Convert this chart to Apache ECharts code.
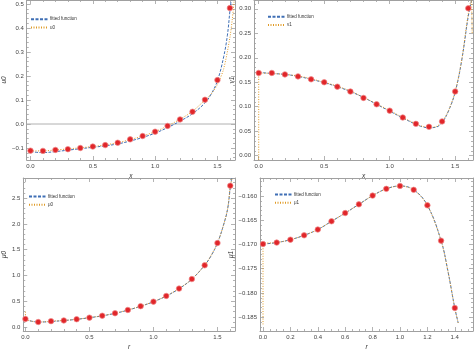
<!DOCTYPE html>
<html>
<head>
<meta charset="utf-8">
<script src="https://cdn.jsdelivr.net/npm/echarts@6/dist/echarts.min.js"></script>
<style>
  html, body { margin: 0; padding: 0; background: #fff; }
  #container { width: 474px; height: 352px; }
</style>
</head>
<body>
<div id="container"></div>
<script>
// sample points (red dots)
var xPts = [0, 0.1, 0.2, 0.3, 0.4, 0.5, 0.6, 0.7, 0.8, 0.9, 1.0, 1.1, 1.2, 1.3, 1.4, 1.5, 1.6];
var u0Pts = [-0.111, -0.112, -0.108, -0.105, -0.100, -0.094, -0.088, -0.078, -0.064, -0.050, -0.032, -0.008, 0.019, 0.051, 0.101, 0.183, 0.483];
var v1Pts = [0.169, 0.169, 0.166, 0.162, 0.156, 0.150, 0.141, 0.131, 0.118, 0.105, 0.092, 0.078, 0.065, 0.059, 0.070, 0.131, 0.301];
var mu0Pts = [0.16, 0.10, 0.117, 0.13, 0.154, 0.185, 0.222, 0.27, 0.333, 0.407, 0.494, 0.605, 0.747, 0.932, 1.198, 1.63, 2.74];
var rPts = [0, 0.1, 0.2, 0.3, 0.4, 0.5, 0.6, 0.7, 0.8, 0.9, 1.0, 1.1, 1.2, 1.3, 1.4];
var mu1Pts = [-0.1699, -0.1696, -0.1690, -0.1681, -0.1669, -0.1652, -0.1635, -0.1617, -0.1599, -0.1585, -0.1579, -0.1587, -0.1619, -0.1692, -0.1831];

// u0 panel curves
var u0FitX = [0, 0.05, 0.1, 0.2, 0.3, 0.4, 0.5, 0.6, 0.7, 0.8, 0.9, 1.0, 1.1, 1.2, 1.3, 1.4, 1.45, 1.5, 1.55, 1.58, 1.6, 1.61];
var u0FitY = [-0.114, -0.118, -0.119, -0.115, -0.109, -0.103, -0.097, -0.091, -0.083, -0.071, -0.056, -0.038, -0.015, 0.012, 0.043, 0.088, 0.125, 0.18, 0.28, 0.37, 0.47, 0.517];
var u0CurX = [0, 0.1, 0.2, 0.3, 0.4, 0.5, 0.6, 0.7, 0.8, 0.9, 1.0, 1.1, 1.2, 1.3, 1.4, 1.45, 1.5, 1.55, 1.6, 1.62, 1.635];
var u0CurY = [-0.112, -0.112, -0.108, -0.104, -0.099, -0.094, -0.087, -0.078, -0.065, -0.05, -0.032, -0.008, 0.02, 0.053, 0.1, 0.125, 0.165, 0.23, 0.36, 0.44, 0.517];

// v1 panel curves
var v1FitX = [0, 0.1, 0.2, 0.3, 0.4, 0.5, 0.6, 0.7, 0.8, 0.9, 1.0, 1.1, 1.2, 1.25, 1.3, 1.35, 1.4, 1.45, 1.5, 1.55, 1.6, 1.625];
var v1FitY = [0.170, 0.168, 0.166, 0.162, 0.156, 0.149, 0.141, 0.131, 0.119, 0.105, 0.091, 0.077, 0.064, 0.059, 0.057, 0.058, 0.068, 0.092, 0.130, 0.195, 0.285, 0.317];
var v1CurX = [0, 0, 0.1, 0.2, 0.3, 0.4, 0.5, 0.6, 0.7, 0.8, 0.9, 1.0, 1.1, 1.2, 1.25, 1.3, 1.35, 1.4, 1.45, 1.5, 1.55, 1.6, 1.625, 1.63, 1.63];
var v1CurY = [-0.009, 0.169, 0.168, 0.166, 0.163, 0.157, 0.150, 0.142, 0.132, 0.119, 0.106, 0.092, 0.078, 0.065, 0.060, 0.058, 0.059, 0.069, 0.093, 0.131, 0.196, 0.29, 0.317, 0.317, 0.25];

// mu0 panel curves
var mu0FitX = [0, 0.05, 0.1, 0.15, 0.2, 0.3, 0.4, 0.5, 0.6, 0.7, 0.8, 0.9, 1.0, 1.1, 1.2, 1.3, 1.4, 1.45, 1.5, 1.55, 1.58, 1.6, 1.612];
var mu0FitY = [0.15, 0.115, 0.10, 0.102, 0.11, 0.128, 0.152, 0.183, 0.22, 0.268, 0.33, 0.405, 0.492, 0.603, 0.745, 0.93, 1.2, 1.38, 1.63, 2.0, 2.3, 2.7, 2.89];
var mu0CurX = [0, 0, 0.05, 0.1, 0.15, 0.2, 0.3, 0.4, 0.5, 0.6, 0.7, 0.8, 0.9, 1.0, 1.1, 1.2, 1.3, 1.4, 1.45, 1.5, 1.55, 1.58, 1.6, 1.615];
var mu0CurY = [0.3, 0.16, 0.115, 0.10, 0.104, 0.117, 0.13, 0.154, 0.185, 0.222, 0.27, 0.333, 0.407, 0.494, 0.605, 0.747, 0.932, 1.198, 1.39, 1.63, 2.0, 2.3, 2.72, 2.89];

// mu1 panel curves
var mu1FitX = [0, 0.1, 0.2, 0.3, 0.4, 0.5, 0.6, 0.7, 0.8, 0.9, 1.0, 1.1, 1.2, 1.3, 1.35, 1.4, 1.425];
var mu1FitY = [-0.1699, -0.1696, -0.1690, -0.1681, -0.1669, -0.1652, -0.1635, -0.1617, -0.1599, -0.1585, -0.1579, -0.1587, -0.1619, -0.1692, -0.1755, -0.1831, -0.1862];
var mu1CurX = [0, 0, 0.1, 0.2, 0.3, 0.4, 0.5, 0.6, 0.7, 0.8, 0.9, 1.0, 1.1, 1.2, 1.3, 1.35, 1.4, 1.425];
var mu1CurY = [-0.1865, -0.1699, -0.1696, -0.1690, -0.1681, -0.1669, -0.1652, -0.1635, -0.1617, -0.1599, -0.1585, -0.1579, -0.1587, -0.1619, -0.1692, -0.1755, -0.1831, -0.1862];

// tick values
var xTicks = [0, 0.5, 1.0, 1.5];
var xMinor = [0.1, 0.2, 0.3, 0.4, 0.6, 0.7, 0.8, 0.9, 1.1, 1.2, 1.3, 1.4, 1.6];
var rTicks = [0, 0.2, 0.4, 0.6, 0.8, 1.0, 1.2, 1.4];
var rMinor = [0.05, 0.1, 0.15, 0.25, 0.3, 0.35, 0.45, 0.5, 0.55, 0.65, 0.7, 0.75, 0.85, 0.9, 0.95, 1.05, 1.1, 1.15, 1.25, 1.3, 1.35, 1.45, 1.5];
var u0Ticks = [-0.1, 0, 0.1, 0.2, 0.3, 0.4, 0.5];
var u0Minor = [-0.14, -0.12, -0.08, -0.06, -0.04, -0.02, 0.02, 0.04, 0.06, 0.08, 0.12, 0.14, 0.16, 0.18, 0.22, 0.24, 0.26, 0.28, 0.32, 0.34, 0.36, 0.38, 0.42, 0.44, 0.46, 0.48];
var v1Ticks = [0, 0.05, 0.1, 0.15, 0.2, 0.25, 0.3];
var v1Minor = [0.01, 0.02, 0.03, 0.04, 0.06, 0.07, 0.08, 0.09, 0.11, 0.12, 0.13, 0.14, 0.16, 0.17, 0.18, 0.19, 0.21, 0.22, 0.23, 0.24, 0.26, 0.27, 0.28, 0.29, 0.31];
var mu0Ticks = [0, 0.5, 1.0, 1.5, 2.0, 2.5];
var mu0Minor = [0.1, 0.2, 0.3, 0.4, 0.6, 0.7, 0.8, 0.9, 1.1, 1.2, 1.3, 1.4, 1.6, 1.7, 1.8, 1.9, 2.1, 2.2, 2.3, 2.4, 2.6, 2.7, 2.8];
var mu1Ticks = [-0.185, -0.18, -0.175, -0.17, -0.165, -0.16];
var mu1Minor = [-0.187, -0.186, -0.184, -0.183, -0.182, -0.181, -0.179, -0.178, -0.177, -0.176, -0.174, -0.173, -0.172, -0.171, -0.169, -0.168, -0.167, -0.166, -0.164, -0.163, -0.162, -0.161, -0.159, -0.158, -0.157];

var FONT = 'Liberation Sans';
var FRAME = '#a0a0a0';
var BLUE = '#3f6fb5';
var ORANGE = '#e09a25';
var RED = '#e0262a';

function fmt(d) {
    return function (v) {
        return (v < -1e-9 ? '\u2212' : '') + Math.abs(v).toFixed(d);
    };
}

function pairs(xs, ys) {
    return xs.map(function (x, i) { return [x, ys[i]]; });
}

var grids = [], xAxes = [], yAxes = [], series = [], legends = [];

function addPanel(p) {
    var gi = grids.length;
    grids.push({ left: p.left, top: p.top, width: p.width, height: p.height, show: false });

    function axis(dir, pos, min, max, ticks, isMinor, extra) {
        var a = {
            gridIndex: gi, type: 'value', position: pos, min: min, max: max,
            splitLine: { show: false },
            axisLine: { show: !isMinor, onZero: false, lineStyle: { color: FRAME, width: 1 } },
            axisTick: { show: true, inside: true, length: isMinor ? 2 : 4, customValues: ticks, lineStyle: { color: FRAME, width: 0.8 } },
            axisLabel: { show: false },
            silent: true
        };
        for (var k in extra) a[k] = extra[k];
        (dir === 'x' ? xAxes : yAxes).push(a);
    }

    var xi = xAxes.length, yi = yAxes.length;
    axis('x', 'bottom', p.xmin, p.xmax, p.xTicks, false, {
        axisLabel: { show: true, customValues: p.xTicks, formatter: fmt(p.xDec), fontSize: 6, color: '#444', fontFamily: FONT, margin: 3 },
        name: p.xName, nameLocation: 'middle', nameGap: 13,
        nameTextStyle: { fontSize: 6.5, fontStyle: 'italic', color: '#333', fontFamily: FONT }
    });
    axis('y', 'left', p.ymin, p.ymax, p.yTicks, false, {
        axisLabel: { show: true, customValues: p.yTicks, formatter: fmt(p.yDec), fontSize: 6, color: '#444', fontFamily: FONT, margin: 3 },
        name: p.yName, nameLocation: 'middle', nameGap: p.yNameGap,
        nameTextStyle: { fontSize: 6.5, fontStyle: 'italic', color: '#333', fontFamily: FONT }
    });
    axis('x', 'top', p.xmin, p.xmax, p.xTicks, false, {});
    axis('y', 'right', p.ymin, p.ymax, p.yTicks, false, {});
    axis('x', 'bottom', p.xmin, p.xmax, p.xMinor, true, {});
    axis('x', 'top', p.xmin, p.xmax, p.xMinor, true, {});
    axis('y', 'left', p.ymin, p.ymax, p.yMinor, true, {});
    axis('y', 'right', p.ymin, p.ymax, p.yMinor, true, {});

    if (p.zeroLine) {
        series.push({
            type: 'line', xAxisIndex: xi, yAxisIndex: yi, silent: true,
            data: [[p.xmin, 0], [p.xmax, 0]], symbol: 'none',
            lineStyle: { color: '#b0b0b0', width: 1 }
        });
    }
    series.push({
        name: 'fitted function', type: 'line', xAxisIndex: xi, yAxisIndex: yi,
        data: pairs(p.fitX, p.fitY), smooth: 0.4, symbol: 'none', z: 3,
        lineStyle: { color: BLUE, width: 1, type: [3, 1.5] }, itemStyle: { color: BLUE }
    });
    series.push({
        name: p.curName, type: 'line', xAxisIndex: xi, yAxisIndex: yi,
        data: pairs(p.curX, p.curY), smooth: 0.3, symbol: 'none', z: 4,
        lineStyle: { color: ORANGE, width: 1, type: [1, 1.5] }, itemStyle: { color: ORANGE }
    });
    series.push({
        type: 'scatter', xAxisIndex: xi, yAxisIndex: yi, z: 5,
        data: pairs(p.ptX, p.ptY), symbolSize: 5.5,
        itemStyle: { color: RED, borderColor: '#f08a8a', borderWidth: 0.7, opacity: 1 }
    });
    legends.push({
        data: ['fitted function', p.curName], orient: 'vertical',
        left: p.legLeft, top: p.legTop, itemWidth: 17, itemHeight: 6, itemGap: 3.3,
        selectedMode: false,
        itemStyle: { opacity: 0, borderWidth: 0 },
        textStyle: { fontSize: 4.5, color: '#333', fontFamily: FONT, padding: [0, 0, 0, -3] }
    });
}

addPanel({
    left: 16, top: 0, width: 219, height: 160,
    xmin: -0.03, xmax: 1.641, xTicks: xTicks, xMinor: xMinor, xDec: 1, xName: 'x',
    ymin: -0.15, ymax: 0.5167, yTicks: u0Ticks, yMinor: u0Minor, yDec: 1, yName: 'u0', yNameGap: 10,
    fitX: u0FitX, fitY: u0FitY, curX: u0CurX, curY: u0CurY, curName: 'u0',
    ptX: xPts, ptY: u0Pts, zeroLine: true, legLeft: 25, legTop: 11.7
});
addPanel({
    left: 254, top: 0, width: 219, height: 160,
    xmin: -0.036, xmax: 1.636, xTicks: xTicks, xMinor: xMinor, xDec: 1, xName: 'x',
    ymin: -0.0088, ymax: 0.318, yTicks: v1Ticks, yMinor: v1Minor, yDec: 2, yName: 'v1', yNameGap: 11,
    fitX: v1FitX, fitY: v1FitY, curX: v1CurX, curY: v1CurY, curName: 'v1',
    ptX: xPts, ptY: v1Pts, zeroLine: false, legLeft: 262, legTop: 9.3
});
addPanel({
    left: 15, top: 178, width: 220, height: 160,
    xmin: -0.017, xmax: 1.637, xTicks: xTicks, xMinor: xMinor, xDec: 1, xName: 'r',
    ymin: -0.074, ymax: 2.889, yTicks: mu0Ticks, yMinor: mu0Minor, yDec: 1, yName: '\u03bc0', yNameGap: 10,
    fitX: mu0FitX, fitY: mu0FitY, curX: mu0CurX, curY: mu0CurY, curName: '\u03bc0',
    ptX: xPts, ptY: mu0Pts, zeroLine: false, legLeft: 23, legTop: 189
});
addPanel({
    left: 260, top: 178, width: 213, height: 158,
    xmin: -0.022, xmax: 1.533, xTicks: rTicks, xMinor: rMinor, xDec: 1, xName: 'r',
    ymin: -0.18786, ymax: -0.15626, yTicks: mu1Ticks, yMinor: mu1Minor, yDec: 3, yName: '\u03bc1', yNameGap: 19,
    fitX: mu1FitX, fitY: mu1FitY, curX: mu1CurX, curY: mu1CurY, curName: '\u03bc1',
    ptX: rPts, ptY: mu1Pts, zeroLine: false, legLeft: 269, legTop: 187
});

var dom = document.getElementById('container');
var myChart = echarts.init(dom, null, { renderer: 'canvas' });
var option = {
    animation: false,
    backgroundColor: '#fff',
    grid: grids,
    xAxis: xAxes,
    yAxis: yAxes,
    legend: legends,
    series: series
};
myChart.setOption(option);
window.addEventListener('resize', myChart.resize);
</script>
</body>
</html>
